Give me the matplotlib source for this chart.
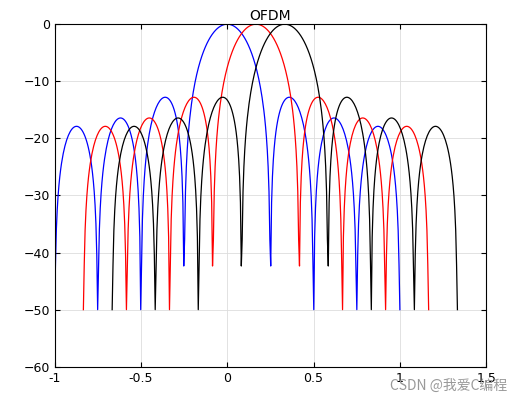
import numpy as np
import matplotlib
matplotlib.use("Agg")
import matplotlib.pyplot as plt

# subcarrier centre offsets and colours
offsets = [0.0, 1.0 / 6, 1.0 / 3]
colors = ["blue", "red", "black"]
n_fft = 8                # periodic-sinc length (nulls every 2/n_fft)
half_span = 1.0          # each curve spans offset +/- 1
floor_db = -50.0
n_samples = 402

fig = plt.figure(figsize=(5.2, 4.03), dpi=100)
ax = fig.add_axes([0.105, 0.09, 0.83, 0.85])

for off, c in zip(offsets, colors):
    x = off + np.linspace(-half_span, half_span, n_samples)
    d = (x - off) * np.pi / 2
    with np.errstate(divide="ignore", invalid="ignore"):
        mag = np.abs(np.sin(n_fft * d) / (n_fft * np.sin(d)))
        mag[np.isnan(mag)] = 1.0
        y = 20 * np.log10(mag)
    y = np.maximum(y, floor_db)
    ax.plot(x, y, color=c, linewidth=0.9)

ax.set_xlim(-1, 1.5)
ax.set_ylim(-60, 0)
ax.set_xticks([-1, -0.5, 0, 0.5, 1, 1.5])
ax.set_xticklabels(["-1", "-0.5", "0", "0.5", "1", "1.5"])
ax.set_yticks(range(-60, 1, 10))
ax.grid(True, color="#dddddd", linewidth=0.6)
ax.tick_params(labelsize=9, direction="in", top=True, right=True)
ax.set_title("OFDM", fontsize=10, pad=3)

fig.text(0.975, 0.025, "CSDN @我爱C编程", ha="right", va="bottom", fontsize=10,
         color="#999999", family=["Noto Sans CJK SC", "DejaVu Sans"])

fig.savefig("out.png", dpi=100)
